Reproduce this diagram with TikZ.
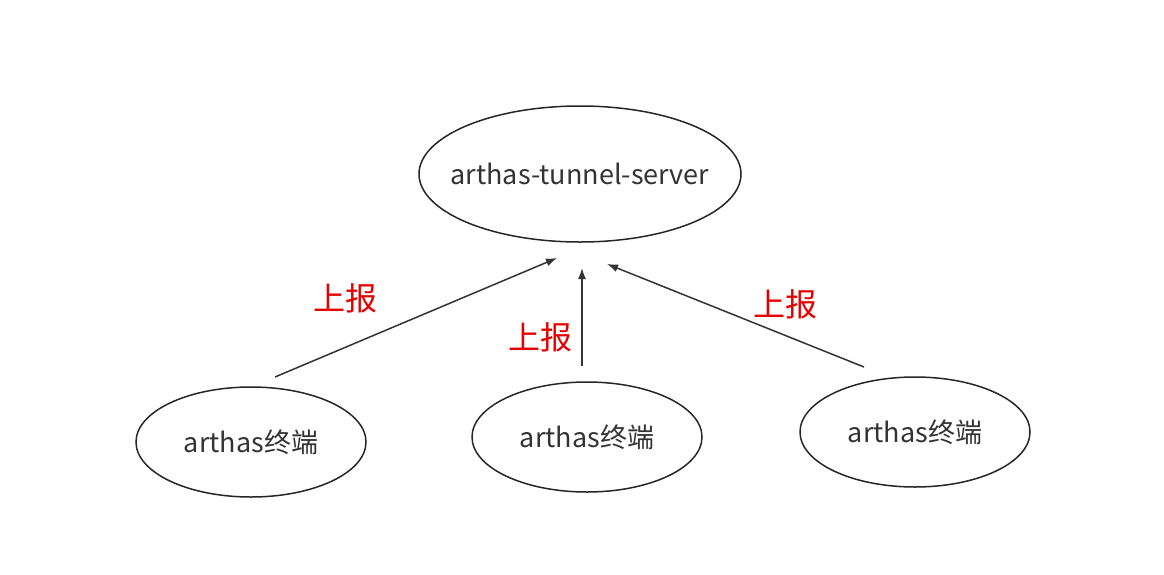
\documentclass[tikz,border=0pt]{standalone}
\usetikzlibrary{shapes.geometric,arrows.meta}
\usepackage{fontspec}
\setmainfont{Noto Sans CJK SC}
\begin{document}
\begin{tikzpicture}[x=1pt,y=-1pt,
  ell/.style={draw=black!85,line width=1.5pt,ellipse,inner sep=0pt,font=\fontsize{27}{32}\selectfont,text=black!80},
  arr/.style={draw=black!80,line width=1.5pt,-{Latex[length=11pt,width=8pt]}},
  lab/.style={text=red!90!black,font=\fontsize{32}{36}\selectfont}]
\useasboundingbox (0,0) rectangle (1164,574);
\node[ell,minimum width=322pt,minimum height=136pt,inner xsep=-40pt] (s) at (580,174) {arthas-tunnel-server};
\node[ell,minimum width=230pt,minimum height=110pt] (a) at (251,442) {arthas终端};
\node[ell,minimum width=230pt,minimum height=110pt] (b) at (587,437) {arthas终端};
\node[ell,minimum width=230pt,minimum height=110pt] (c) at (915,432) {arthas终端};
\coordinate (a1) at (275,377); \coordinate (a2) at (557,258);
\coordinate (b1) at (582,366); \coordinate (b2) at (582,268);
\coordinate (c1) at (864,367); \coordinate (c2) at (607,264);
\draw[arr] (a1) -- (a2);
\draw[arr] (b1) -- (b2);
\draw[arr] (c1) -- (c2);
\node[lab] (l1) at (345,298) {上报};
\node[lab] (l2) at (540,337) {上报};
\node[lab] (l3) at (785,304) {上报};
\end{tikzpicture}
\end{document}
